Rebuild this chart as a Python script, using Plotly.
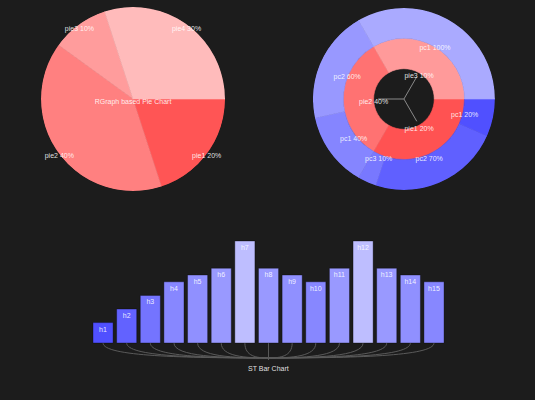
import plotly.graph_objects as go
import numpy as np

# left pie
pie_labels = ["pie1", "pie2", "pie3", "pie4"]
pie_values = [20, 40, 10, 30]

# right chart: inner ring (equal parents) and outer ring (children in % of parent)
ring_labels = ["pie1", "pie2", "pie3"]
ring_values = [20, 40, 10]
child_parents = [0, 0, 0, 1, 1, 2]
child_labels = ["pc1", "pc2", "pc3", "pc1", "pc2", "pc1"]
child_values = [20, 70, 10, 40, 60, 100]

# bar chart
bar_labels = ["h%d" % i for i in range(1, 16)]
bar_values = [3, 5, 7, 9, 10, 11, 15, 11, 10, 9, 11, 15, 11, 10, 9]

BG = "#1c1c1c"
FONT = "Liberation Sans"
TXT = "rgba(255,255,255,0.88)"

pie_colors = ["#ff5555", "#ff8080", "#ff9c9c", "#ffbbbb"]
ring_colors = ["#ff5252", "#ff7272", "#ff9a9a"]
child_colors = ["#5050ff", "#6060ff", "#7878ff", "#8585ff", "#9898ff", "#aaaaff"]


def slices(values, start=0.0, span=360.0):
    w = np.array(values, dtype=float) / sum(values) * span
    s = start + np.concatenate([[0], np.cumsum(w)[:-1]])
    return s + w / 2, w


fig = go.Figure()

# ---- left pie
mids, widths = slices(pie_values)
fig.add_trace(go.Barpolar(
    r=[1] * len(pie_values), theta=mids, width=widths,
    marker=dict(color=pie_colors, line=dict(color=pie_colors, width=0.6)),
    subplot="polar", hoverinfo="skip",
))
fig.add_trace(go.Scatterpolar(
    r=[0.99] * len(pie_values), theta=mids, mode="text",
    text=["%s %d%%" % (l, v) for l, v in zip(pie_labels, pie_values)],
    textposition="bottom center",
    textfont=dict(family=FONT, size=7, color=TXT),
    subplot="polar", cliponaxis=False, hoverinfo="skip",
))
fig.add_trace(go.Scatterpolar(
    r=[0], theta=[0], mode="text", text=["RGraph based Pie Chart"],
    textposition="bottom center",
    textfont=dict(family=FONT, size=7, color=TXT),
    subplot="polar", cliponaxis=False, hoverinfo="skip",
))

# ---- right chart
r_mids, r_widths = slices([1] * len(ring_values))
fig.add_trace(go.Barpolar(
    r=[1] * len(ring_values), base=[1] * len(ring_values),
    theta=r_mids, width=r_widths,
    marker=dict(color=ring_colors, line=dict(color=ring_colors, width=0.6)),
    subplot="polar2", hoverinfo="skip",
))
c_mids, c_widths = [], []
for p in range(len(ring_values)):
    idx = [k for k, q in enumerate(child_parents) if q == p]
    m, w = slices([child_values[k] for k in idx],
                  start=r_mids[p] - r_widths[p] / 2, span=r_widths[p])
    c_mids += list(m)
    c_widths += list(w)
fig.add_trace(go.Barpolar(
    r=[1] * len(child_values), base=[2] * len(child_values),
    theta=c_mids, width=c_widths,
    marker=dict(color=child_colors, line=dict(color=child_colors, width=0.6)),
    subplot="polar2", hoverinfo="skip",
))
# leader lines in the hole
lr, lt = [], []
for m in r_mids:
    lr += [0, 0.85, None]
    lt += [m, m, None]
fig.add_trace(go.Scatterpolar(
    r=lr, theta=lt, mode="lines", line=dict(color="#8a8a8a", width=1),
    subplot="polar2", hoverinfo="skip",
))
fig.add_trace(go.Scatterpolar(
    r=[1.0] * len(ring_values), theta=r_mids, mode="text",
    text=["%s %d%%" % (l, v) for l, v in zip(ring_labels, ring_values)],
    textposition="bottom center",
    textfont=dict(family=FONT, size=7, color=TXT),
    subplot="polar2", cliponaxis=False, hoverinfo="skip",
))
fig.add_trace(go.Scatterpolar(
    r=[2.05] * len(child_values), theta=c_mids, mode="text",
    text=["%s %d%%" % (l, v) for l, v in zip(child_labels, child_values)],
    textposition="bottom center",
    textfont=dict(family=FONT, size=7, color=TXT),
    subplot="polar2", cliponaxis=False, hoverinfo="skip",
))

# ---- bar chart
xs = list(range(1, len(bar_values) + 1))
vmin, vmax = min(bar_values), max(bar_values)
bar_colors = []
for v in bar_values:
    c = int(80 + (v - vmin) / (vmax - vmin) * 110)
    bar_colors.append("rgb(%d,%d,255)" % (c, c))
fig.add_trace(go.Bar(
    x=xs, y=bar_values, text=bar_labels,
    textposition="inside", insidetextanchor="end", textangle=0,
    constraintext="none",
    insidetextfont=dict(family=FONT, size=7, color=TXT),
    marker=dict(color=bar_colors, line=dict(color="rgba(0,0,0,0.35)", width=1)),
    xaxis="x", yaxis="y", hoverinfo="skip",
))

# tree of curves under the bars
xc = (len(bar_values) + 1) / 2
y_end = -2.2
shapes = []
for x in xs:
    if x == xc:
        path = "M %g,0 L %g,%g" % (x, x, y_end - 0.3)
    else:
        path = "M %g,0 C %g,%g %g,%g %g,%g" % (
            x, x, y_end * 0.9, (x + xc) / 2, y_end, xc, y_end)
    shapes.append(dict(type="path", path=path, xref="x", yref="y",
                       line=dict(color="#5a5a5a", width=1), layer="below"))

axis_off = dict(visible=False, showgrid=False, zeroline=False)
polar_common = dict(
    bgcolor="rgba(0,0,0,0)", barmode="overlay",
    angularaxis=dict(direction="clockwise", rotation=0, visible=False,
                     showgrid=False, showline=False, showticklabels=False),
)

fig.update_layout(
    width=535, height=400,
    margin=dict(l=0, r=0, t=0, b=0),
    paper_bgcolor=BG, plot_bgcolor=BG,
    showlegend=False,
    font=dict(family=FONT, size=7, color=TXT),
    polar=dict(domain=dict(x=[0.0766, 0.4206], y=[0.5225, 0.9825]),
               radialaxis=dict(range=[0, 1], visible=False, showgrid=False),
               **polar_common),
    polar2=dict(domain=dict(x=[0.585, 0.925], y=[0.525, 0.98]),
                radialaxis=dict(range=[0, 3], visible=False, showgrid=False),
                **polar_common),
    xaxis=dict(domain=[0.1705, 0.8333], range=[0.5, len(bar_values) + 0.5], **axis_off),
    yaxis=dict(domain=[0.05, 0.4125], range=[-5.44, 15.88], **axis_off),
    bargap=0.15,
    shapes=shapes,
    annotations=[dict(x=xc, y=-3.7, xref="x", yref="y", text="ST Bar Chart",
                      showarrow=False, font=dict(family=FONT, size=7, color=TXT))],
)

fig.write_html("out.html", config={"displayModeBar": False},
               post_script="document.body.style.margin='0px';")
